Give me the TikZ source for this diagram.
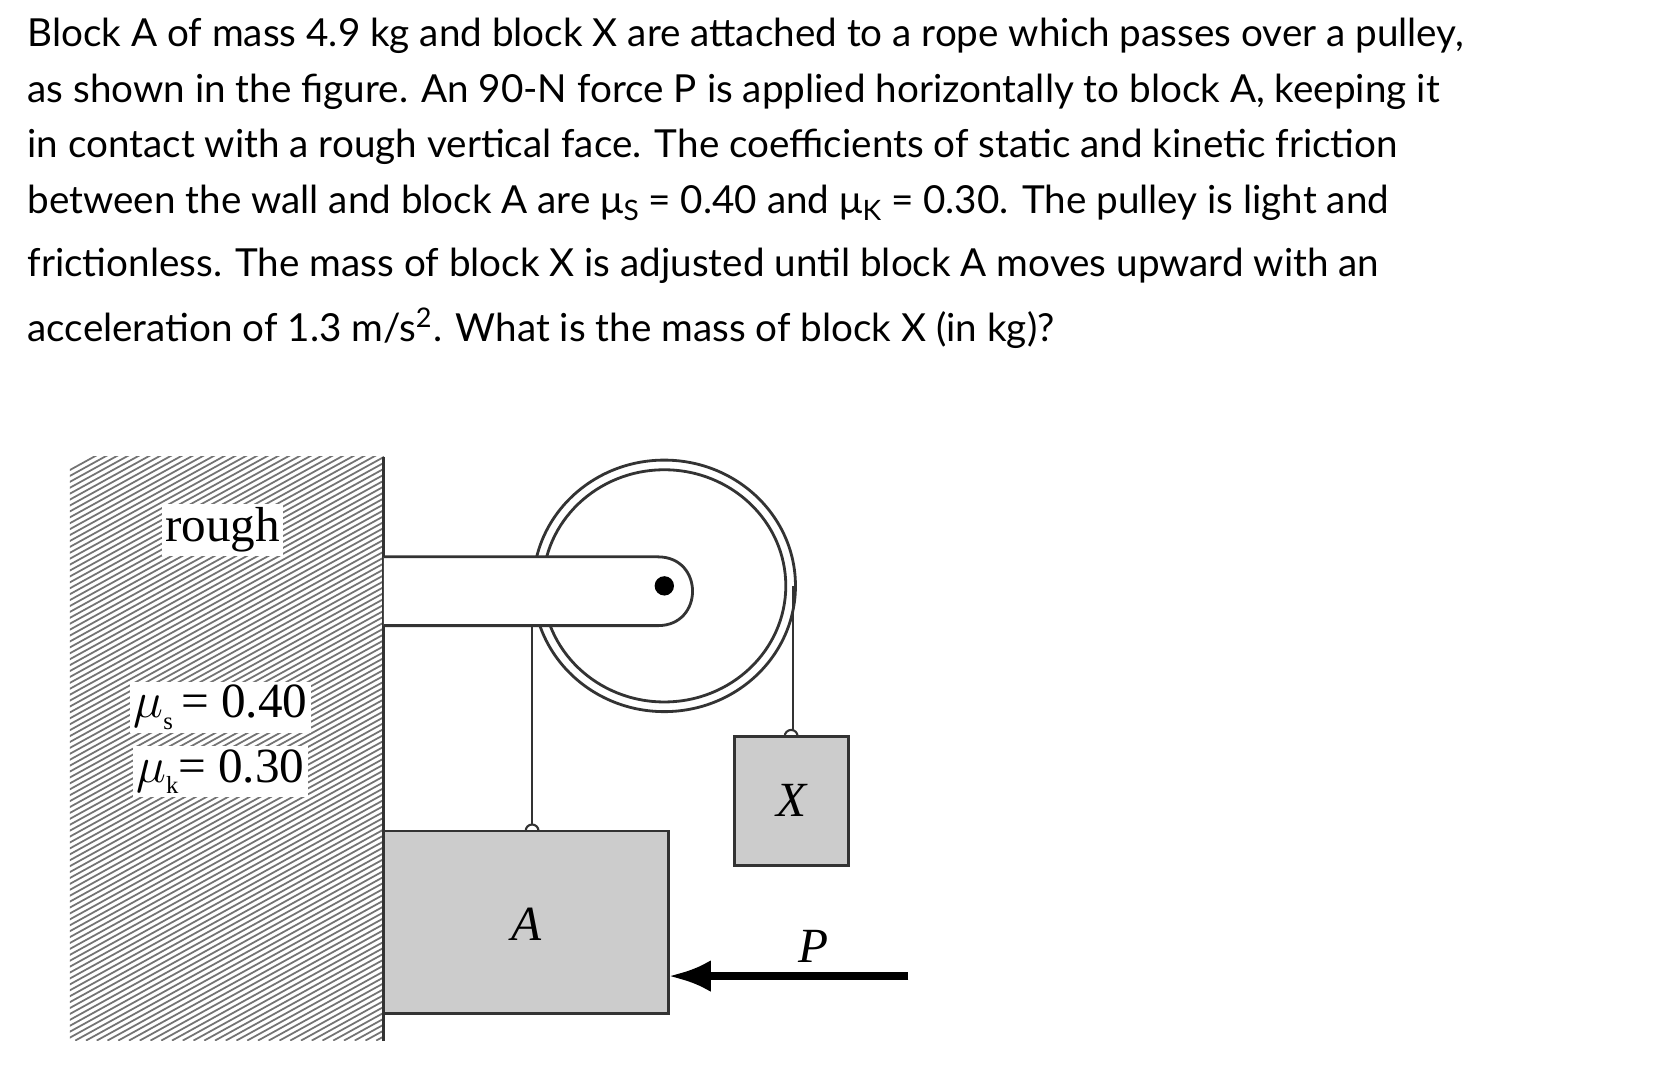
\documentclass[tikz,border=0pt]{standalone}
\usepackage{fontspec}
\usetikzlibrary{arrows.meta}
\setmainfont{Lato}
\newfontfamily\figfont{Liberation Serif}
\begin{document}
\begin{tikzpicture}[x=0.01075cm,y=-0.01075cm,
  txt/.style={anchor=west,inner sep=0,font=\fontsize{11pt}{13pt}\selectfont},
  lab/.style={font=\figfont\fontsize{14pt}{16pt}\selectfont\itshape,inner sep=1pt},
  wlab/.style={font=\figfont\fontsize{14pt}{16pt}\selectfont,fill=white,inner sep=1pt},
  blockbox/.style={draw=black!80,fill=black!20,line width=0.8pt},
  rope/.style={draw=black!80,line width=0.6pt}]
\useasboundingbox (0,0) rectangle (1561,1001);
\fill[white] (0,0) rectangle (1561,1001);
% text
\node[txt] (l1) at (25,33) {Block A of mass 4.9 kg and block X are attached to a rope which passes over a pulley,};
\node[txt] (l2) at (25,85) {as shown in the figure. An 90-N force P is applied horizontally to block A, keeping it};
\node[txt] (l3) at (25,137) {in contact with a rough vertical face. The coefficients of static and kinetic friction};
\node[txt] (l4) at (25,189) {between the wall and block A are μ\raisebox{-0.35ex}{\footnotesize S} = 0.40 and μ\raisebox{-0.35ex}{\footnotesize K} = 0.30. The pulley is light and};
\node[txt] (l5) at (25,247) {frictionless. The mass of block X is adjusted until block A moves upward with an};
\node[txt] (l6) at (25,305) {acceleration of 1.3 m/s\textsuperscript{2}. What is the mass of block X (in kg)?};
% wall hatch
\begin{scope}
\clip (65,425) rectangle (357,968);
\foreach \i in {-900,-890,...,360} {\draw[black!55,line width=0.5pt] (\i,968) -- ++(1200,-660);}
\end{scope}
\draw[black!80,line width=0.8pt] (357,425) -- (357,968);
\node[wlab] (rough) at (207,493) {rough};
\node[wlab] (mus) at (205,658) {$\mu$\raisebox{-0.5ex}{\scriptsize s}\,= 0.40};
\node[wlab] (muk) at (205,718) {$\mu$\raisebox{-0.5ex}{\scriptsize k}= 0.30};
% pulley
\coordinate (c) at (618,545);
\draw[black!80,line width=0.8pt,fill=white] (c) ellipse [x radius=122,y radius=117];
\draw[black!80,line width=0.8pt] (c) ellipse [x radius=113,y radius=108];
% arm
\draw[black!80,line width=0.8pt,fill=white] (357,518) -- (612,518) .. controls (655,518) and (655,582) .. (612,582) -- (357,582);
\fill (c) circle (9);
% hooks
\draw[rope,fill=white] (495,773) circle (6);
\draw[rope,fill=white] (736,685) circle (6);
% blocks
\draw[blockbox] (357,773) rectangle (622,943);
\coordinate (Aeast) at (622,908);
\node[lab] (Alab) at (490,860) {A};
\draw[blockbox] (683,685) rectangle (789,805);
\node[lab] (Xlab) at (736,745) {X};
% ropes
\draw[rope] (495,582) -- (495,767);
\draw[rope] (738,545) -- (738,679);
% force
\coordinate (pend) at (845,908);
\draw[line width=2.2pt,-{Latex[length=12pt,width=9pt]}] (pend) -- (Aeast);
\node[lab] (P) at (757,880) {P};
\end{tikzpicture}
\end{document}
